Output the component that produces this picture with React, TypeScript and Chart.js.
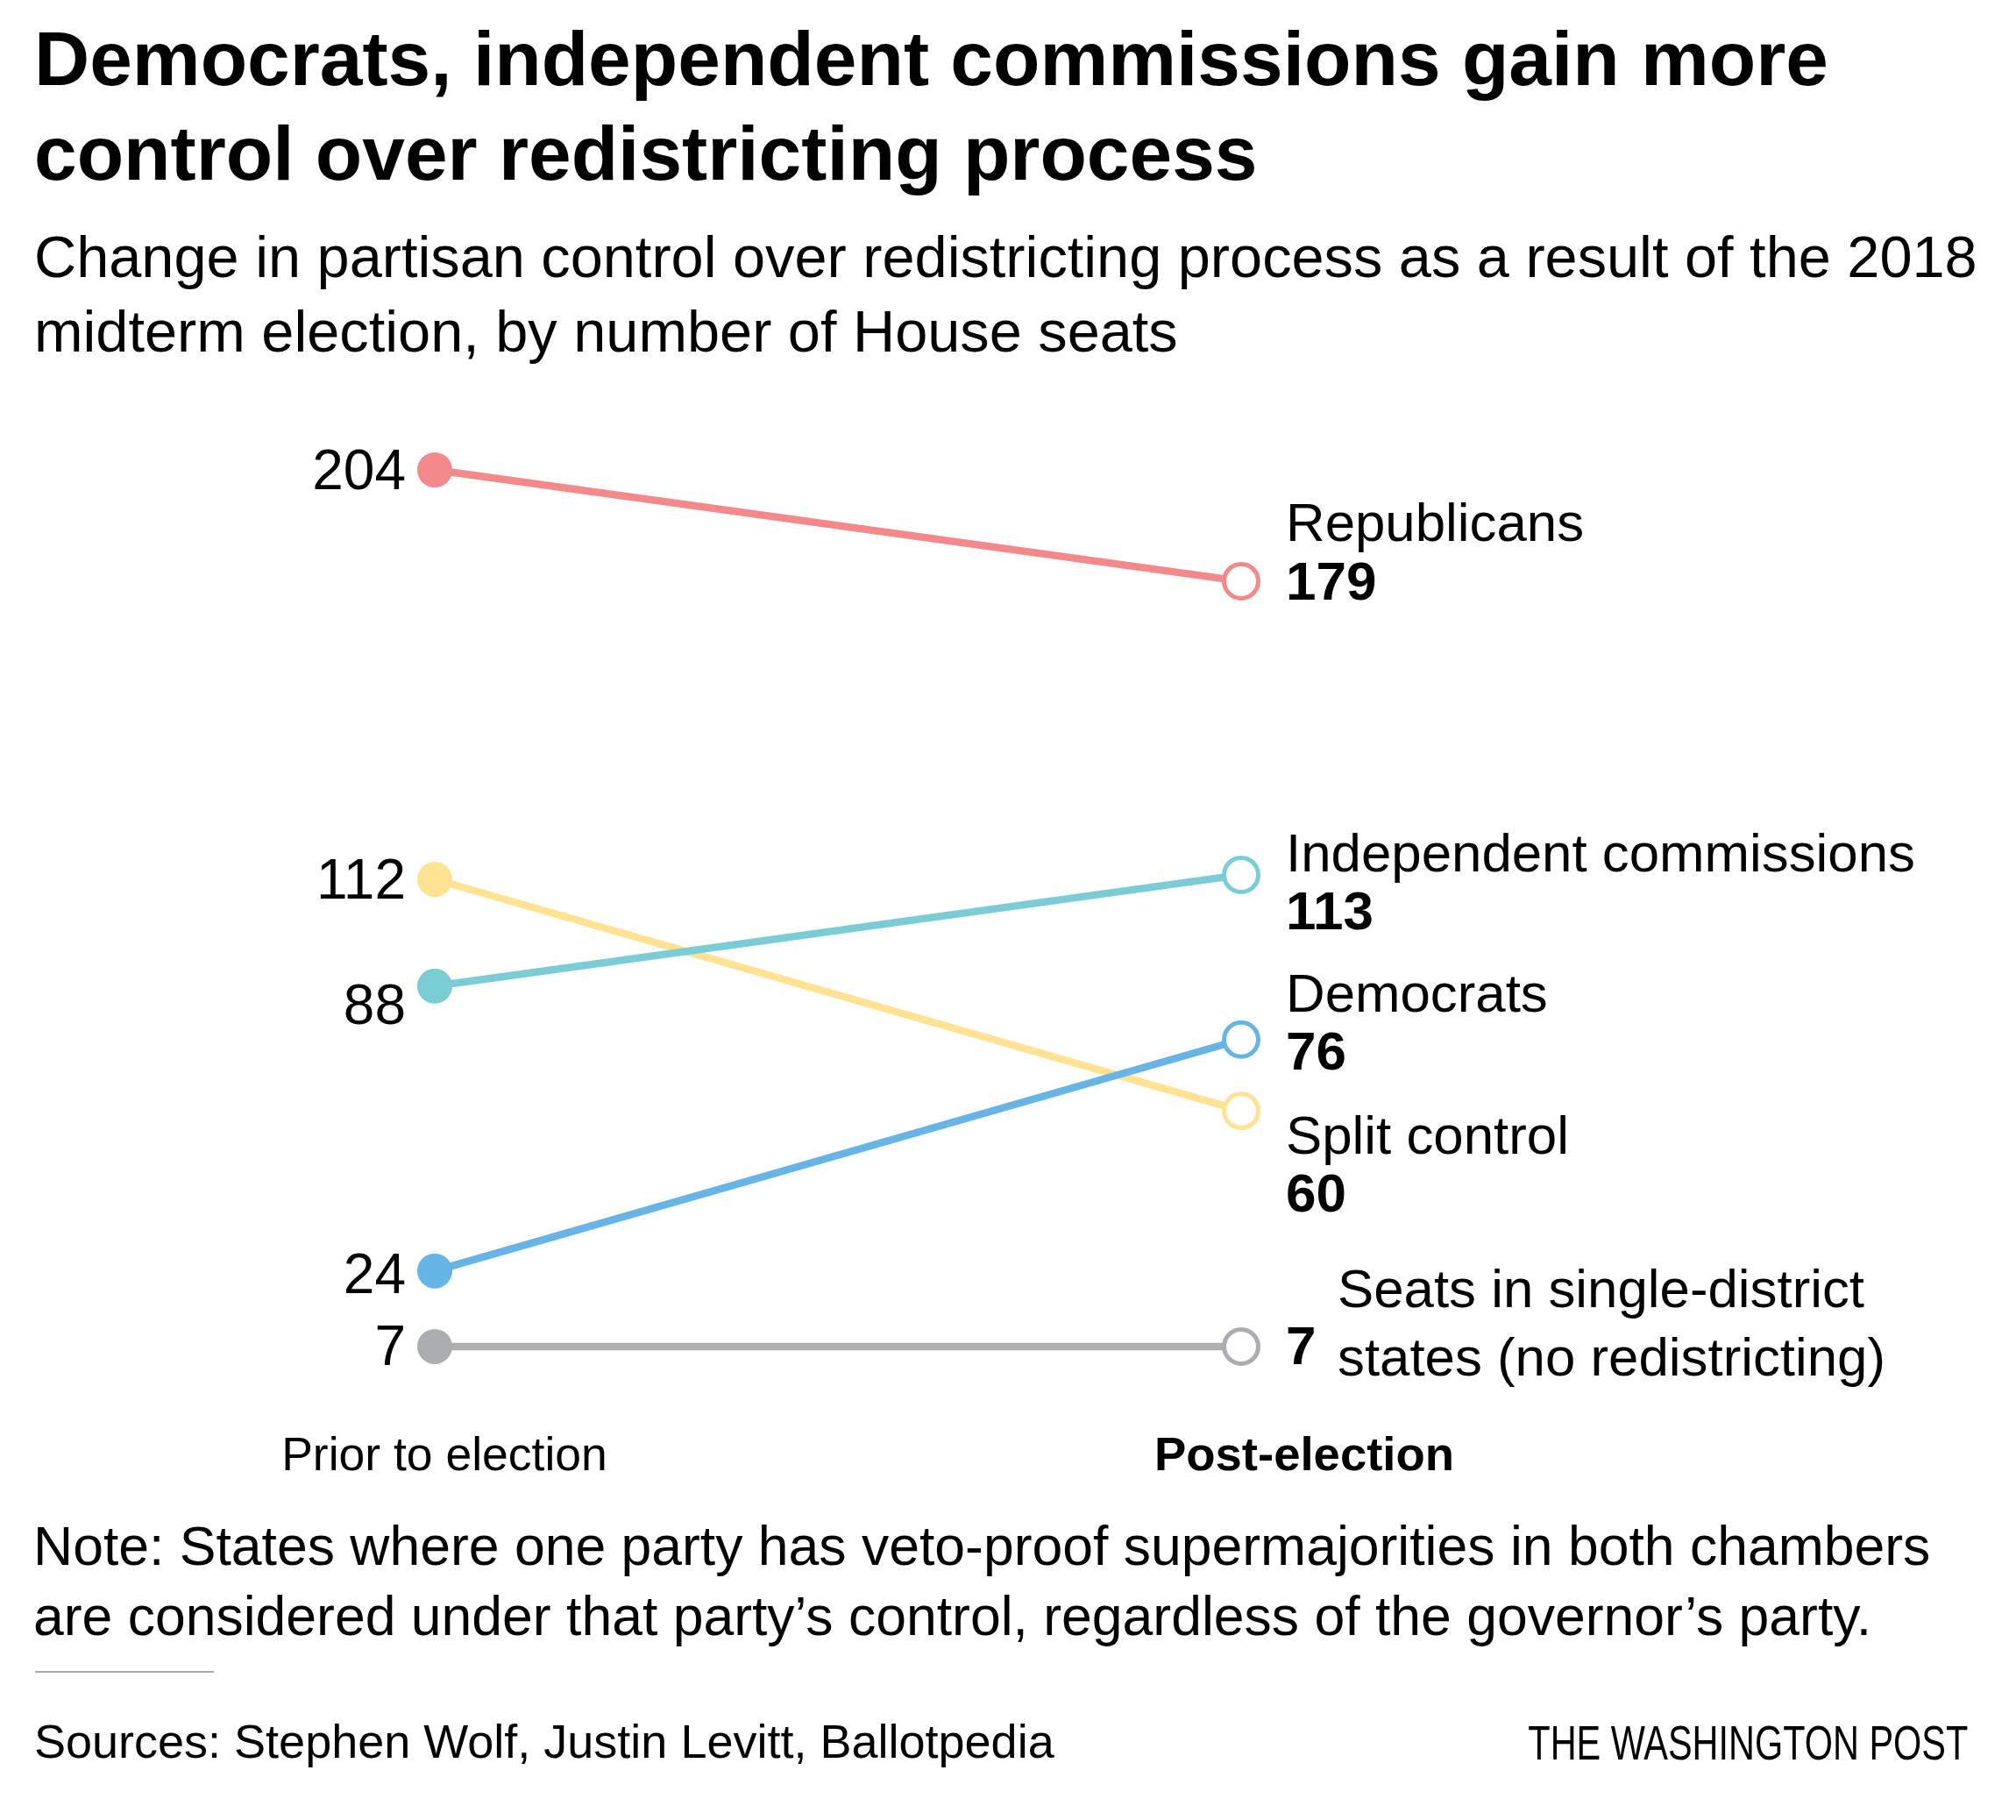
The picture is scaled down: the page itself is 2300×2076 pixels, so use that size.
import { useEffect, useRef } from "react";
import { Chart, registerables } from "chart.js";

Chart.register(...registerables);

// --- data ---
const PERIODS = ["Prior to election", "Post-election"];
const GROUPS = [
  "Republicans",
  "Independent commissions",
  "Democrats",
  "Split control",
  "Seats in single-district states (no redistricting)",
];
const PRIOR_SEATS = [204, 88, 24, 112, 7];
const POST_SEATS = [179, 113, 76, 60, 7];

const COLORS = ["#F4898B", "#7ACDD5", "#66B5E6", "#FFE292", "#ACADB1"];

// label placement (pixel offsets from the point, baseline)
const LEFT_OFFSET = [22, 43, 25, 22, 21];
const NAME_LINES = [
  ["Republicans"],
  ["Independent commissions"],
  ["Democrats"],
  ["Split control"],
  ["Seats in single-district", "states (no redistricting)"],
];
const NAME_OFFSET = [-46, -4, -32, 49, -45];
const VALUE_OFFSET = [21, 62, 34, 115, 20];

const FONT = "'Liberation Sans', Arial, sans-serif";
const CANVAS_TOP = 460;
const W = 2300;
const H = 1260;

const labelsPlugin = {
  id: "slopeLabels",
  afterDatasetsDraw(chart: Chart) {
    const { ctx, scales } = chart;
    const x = scales.x;
    const y = scales.y;
    const x0 = x.getPixelForValue(0);
    const x1 = x.getPixelForValue(1);
    ctx.save();
    ctx.fillStyle = "#000";
    ctx.textBaseline = "alphabetic";

    // left values
    ctx.font = `64px ${FONT}`;
    ctx.textAlign = "right";
    PRIOR_SEATS.forEach((v, i) => {
      ctx.fillText(String(v), x0 - 33, y.getPixelForValue(v) + LEFT_OFFSET[i]);
    });

    // right names + values
    ctx.textAlign = "left";
    POST_SEATS.forEach((v, i) => {
      const py = y.getPixelForValue(v);
      const twoLine = NAME_LINES[i].length > 1;
      ctx.font = `bold 62px ${FONT}`;
      ctx.fillText(String(v), x1 + 51, py + VALUE_OFFSET[i]);
      ctx.font = `61.8px ${FONT}`;
      NAME_LINES[i].forEach((line, k) => {
        ctx.fillText(line, x1 + (twoLine ? 110 : 51), py + NAME_OFFSET[i] + k * 78);
      });
    });

    // period labels
    const base = y.getPixelForValue(0) + 105;
    ctx.textAlign = "center";
    ctx.font = `53.5px ${FONT}`;
    ctx.fillText(PERIODS[0], x0 + 11, base);
    ctx.font = `bold 54.5px ${FONT}`;
    ctx.fillText(PERIODS[1], x1 + 72, base);
    ctx.restore();
  },
};

function SlopeChart() {
  const canvasRef = useRef<HTMLCanvasElement>(null);
  const chartRef = useRef<Chart | null>(null);

  useEffect(() => {
    if (!canvasRef.current) return;
    if (chartRef.current) chartRef.current.destroy();

    chartRef.current = new Chart(canvasRef.current, {
      type: "line",
      data: {
        labels: PERIODS,
        datasets: GROUPS.map((g, i) => ({
          label: g,
          data: [PRIOR_SEATS[i], POST_SEATS[i]],
          borderColor: COLORS[i],
          borderWidth: 8.5,
          pointBackgroundColor: [COLORS[i], "#ffffff"],
          pointBorderColor: COLORS[i],
          pointBorderWidth: [0, 5],
          pointRadius: [20, 19.5],
          pointHoverRadius: [20, 19.5],
          clip: false as any,
        })),
      },
      options: {
        responsive: false,
        animation: false,
        events: [],
        layout: { padding: { left: 496, right: W - 1416, top: 536 - CANVAS_TOP, bottom: H - (1571.5 - CANVAS_TOP) } },
        scales: {
          x: { type: "category", display: false, offset: false },
          y: { type: "linear", display: false, min: 0, max: 204 },
        },
        plugins: {
          legend: { display: false },
          title: { display: false },
          tooltip: { enabled: false },
        },
      },
      plugins: [labelsPlugin],
    });

    return () => { chartRef.current?.destroy(); };
  }, []);

  return (
    <canvas
      ref={canvasRef}
      width={W}
      height={H}
      style={{ position: "absolute", left: 0, top: CANVAS_TOP, width: W, height: H }}
    />
  );
}

// top of a text box so its first baseline lands at `baseline`
const topFor = (baseline: number, fs: number, lh: number) =>
  baseline - ((lh - 1.117 * fs) / 2 + 0.905 * fs);

export default function App() {
  return (
    <div
      style={{
        position: "absolute", left: 0, top: 0, width: 2300, height: 2076,
        background: "#fff", overflow: "hidden", fontFamily: FONT, color: "#000",
      }}
    >
      <div style={{ position: "absolute", left: 39, top: topFor(97, 87.5, 108), fontSize: 87.5, lineHeight: "108px", fontWeight: 700, whiteSpace: "nowrap" }}>
        Democrats, independent commissions gain more<br />control over redistricting process
      </div>
      <div style={{ position: "absolute", left: 39, top: topFor(317, 66.7, 85), fontSize: 66.7, lineHeight: "85px", whiteSpace: "nowrap" }}>
        Change in partisan control over redistricting process as a result of the 2018<br />midterm election, by number of House seats
      </div>

      <SlopeChart />

      <div style={{ position: "absolute", left: 38, top: topFor(1785, 62.5, 80), fontSize: 62.5, lineHeight: "80px", whiteSpace: "nowrap" }}>
        Note: States where one party has veto-proof supermajorities in both chambers<br />are considered under that party’s control, regardless of the governor’s party.
      </div>
      <div style={{ position: "absolute", left: 40, top: 1906, width: 204, height: 2, background: "#aaaaaa" }} />
      <div style={{ position: "absolute", left: 39, top: topFor(2005, 54, 60), fontSize: 54, lineHeight: "60px", whiteSpace: "nowrap" }}>
        Sources: Stephen Wolf, Justin Levitt, Ballotpedia
      </div>
      <div
        style={{
          position: "absolute", right: 2300 - 2245, top: topFor(2007, 56, 60), fontSize: 56, lineHeight: "60px",
          whiteSpace: "nowrap", transform: "scaleX(0.74)", transformOrigin: "right center",
        }}
      >
        THE WASHINGTON POST
      </div>
    </div>
  );
}
